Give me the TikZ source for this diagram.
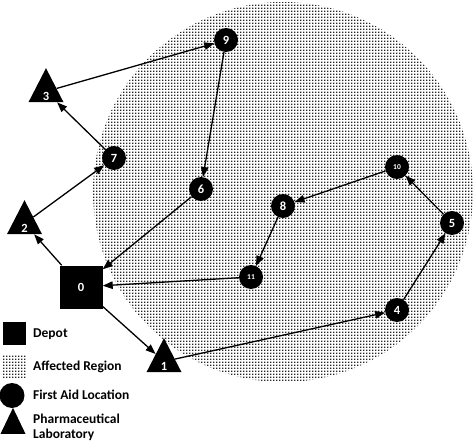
\documentclass[tikz,border=0pt]{standalone}
\usepackage{fontspec}
\setmainfont{Carlito}
\usetikzlibrary{shapes.geometric,patterns,arrows.meta}
\pgfdeclarepatternformonly{mydots}{\pgfpointorigin}{\pgfpoint{3pt}{3pt}}{\pgfpoint{3pt}{3pt}}{%
  \pgfpathrectangle{\pgfpointorigin}{\pgfpoint{1.9pt}{1.9pt}}\pgfusepath{fill}}
\begin{document}
\begin{tikzpicture}[x=1pt,y=-1pt,
  fa/.style={circle,fill=black,minimum size=24pt,inner sep=0pt,text=white,font=\bfseries\fontsize{12.5}{12.5}\selectfont},
  fasmall/.style={fa,font=\bfseries\fontsize{7.5}{7.5}\selectfont},
  lab/.style={isosceles triangle,shape border rotate=90,isosceles triangle stretches,fill=black,inner sep=0pt,minimum width=35pt,minimum height=34pt},
  labtxt/.style={text=white,font=\bfseries\fontsize{12.5}{12.5}\selectfont,yshift=-5pt},
  depot/.style={rectangle,fill=black,minimum size=43pt,inner sep=0pt,text=white,font=\bfseries\fontsize{12.5}{12.5}\selectfont},
  arr/.style={-{Triangle[length=10pt,width=7.5pt]},line width=1.3pt},
  legtxt/.style={anchor=west,font=\bfseries\fontsize{13.5}{15.5}\selectfont,align=left,inner sep=0pt},
  region/.style={pattern=mydots,pattern color=black!85}
]
\useasboundingbox (0,0) rectangle (474,441);
% affected region
\fill[region] (283,192) circle[radius=190];
% nodes
\node[depot] (n0) at (81,287) {0};
\node[lab,label={[labtxt]center:1}] (n1) at (164,361.5) {};
\node[lab,label={[labtxt]center:2}] (n2) at (24.5,223.5) {};
\node[lab,label={[labtxt]center:3}] (n3) at (46,91.5) {};
\node[fa] (n4) at (397,310) {4};
\node[fa] (n5) at (452,223) {5};
\node[fa] (n6) at (201,189) {6};
\node[fa] (n7) at (114,158) {7};
\node[fa] (n8) at (283,206) {8};
\node[fa] (n9) at (226,40) {9};
\node[fasmall] (n10) at (397,167) {10};
\node[fasmall] (n11) at (251,277) {11};
% connectors
\draw[arr] (n0) -- (n1);
\draw[arr] (n1) -- (n4);
\draw[arr] (n4) -- (n5);
\draw[arr] (n5) -- (n10);
\draw[arr] (n10) -- (n8);
\draw[arr] (n8) -- (n11);
\draw[arr] (n11) -- (n0);
\draw[arr] (n0) -- (n2);
\draw[arr] (n2) -- (n7);
\draw[arr] (n7) -- (n3);
\draw[arr] (n3) -- (n9);
\draw[arr] (n9) -- (n6);
\draw[arr] (n6) -- (n0);
% legend
\node[rectangle,fill=black,minimum size=23pt,inner sep=0pt] (ld) at (14.5,333.5) {};
\node[legtxt] (ldt) at (33,334) {Depot};
\node[rectangle,region,minimum size=23pt,inner sep=0pt] (lr) at (14.5,366.5) {};
\node[legtxt] (lrt) at (33,367) {Affected Region};
\node[circle,fill=black,minimum size=25pt,inner sep=0pt] (lc) at (12,395.5) {};
\node[legtxt] (lct) at (33,395) {First Aid Location};
\node[isosceles triangle,shape border rotate=90,isosceles triangle stretches,fill=black,inner sep=0pt,minimum width=25pt,minimum height=26pt] (lt) at (13,426) {};
\node[legtxt] (ltt) at (33,427.5) {Pharmaceutical\\Laboratory};
\end{tikzpicture}
\end{document}
